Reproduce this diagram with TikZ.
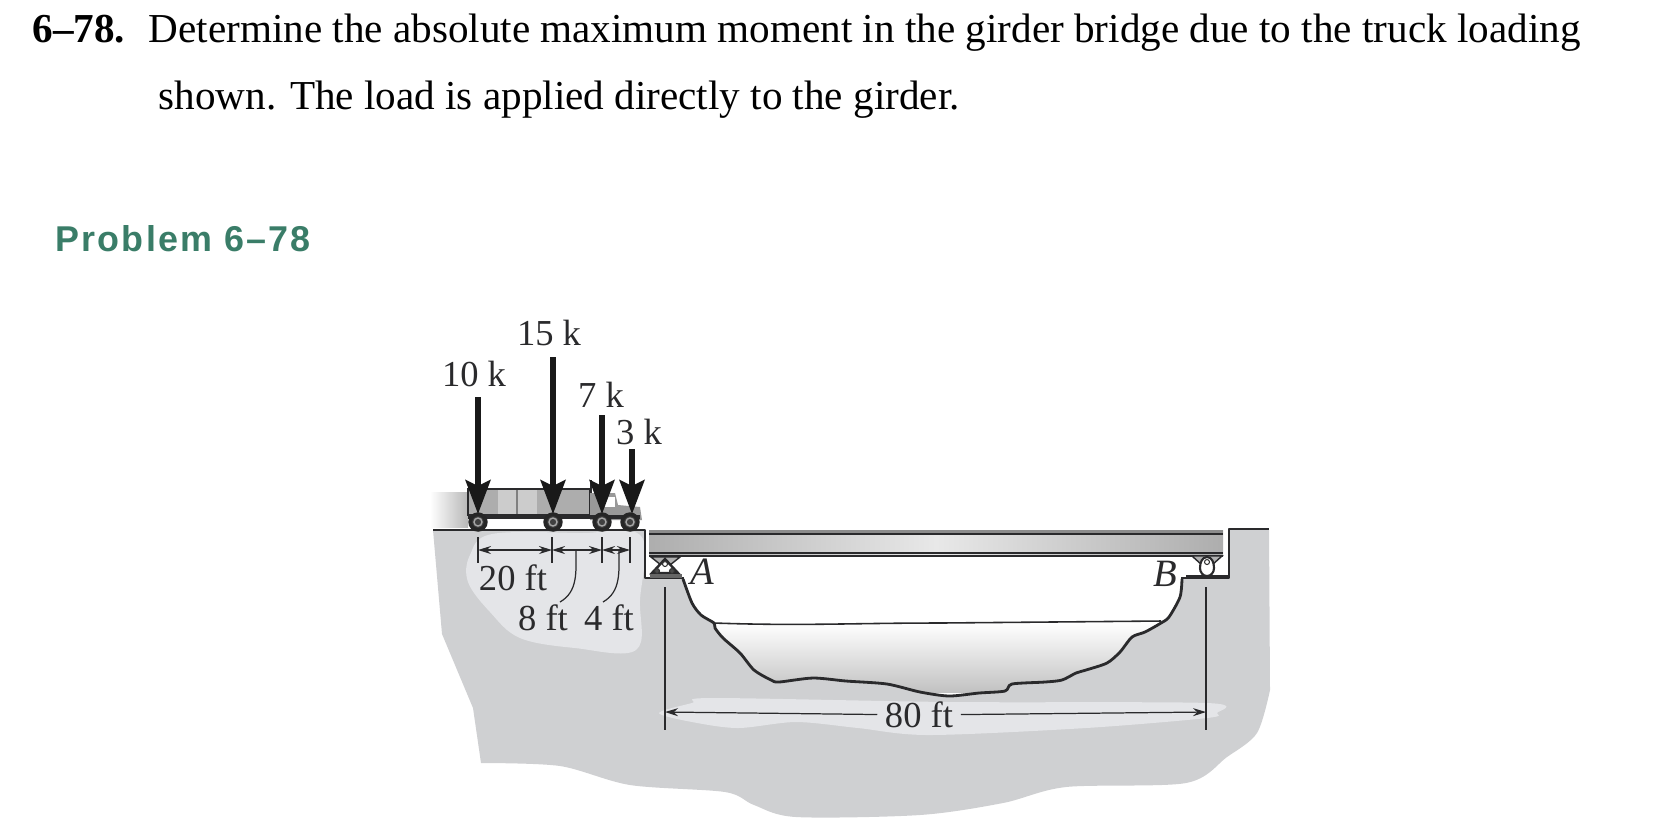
\documentclass[tikz,border=0pt]{standalone}
\usepackage{fontspec}
\setmainfont{Liberation Serif}
\newfontfamily\labelfont[LetterSpace=6]{Liberation Sans}
\usetikzlibrary{arrows.meta,calc}
\definecolor{ground}{HTML}{CFD0D2}
\definecolor{patch}{HTML}{E4E5E8}
\definecolor{headgreen}{HTML}{3A7D68}
\definecolor{inkdark}{HTML}{2A2A2C}
\tikzset{
  title/.style={anchor=base west,inner sep=0pt,font=\fontsize{11.7pt}{14pt}\selectfont,text=black},
  dimtext/.style={inner sep=0pt,font=\fontsize{10.4pt}{12pt}\selectfont,text=inkdark},
  extline/.style={draw=inkdark,line width=.35pt},
  dimline/.style={draw=inkdark,line width=.35pt,{Stealth[length=1.3mm,width=.8mm]}-{Stealth[length=1.3mm,width=.8mm]}},
  force/.style={draw=black!90,line width=1.5pt,-{Stealth[length=3.4mm,width=2.5mm,inset=.6mm]}},
  wheel/.style={circle,minimum size=.155cm,inner sep=0pt,draw=black!85,line width=1.1pt,fill=black!75},
  bolt/.style={circle,minimum size=.05cm,inner sep=0pt,draw=black!80,line width=.3pt,fill=white},
  darkbolt/.style={bolt,fill=black!70},
}
\newcommand\riverline{plot[smooth,tension=.45] coordinates {(683,579) (692,603) (701,615) (714,623) (715,628)
  (723,638) (740,653) (754,670) (771,680) (779,682) (813,678) (846,681) (887,684) (920,692)
  (949,696) (979,693) (1005,691) (1012,684) (1045,682) (1062,680) (1076,673) (1086,670) (1107,663)
  (1120,652) (1132,637) (1145,632) (1161,623) (1169,617) (1180,597) (1182,579)}}
\begin{document}
\begin{tikzpicture}[x=.01cm,y=-.01cm]
\useasboundingbox (0,0) rectangle (1658,838);

% text above the picture
\node[title] (num)   at (32,42)  {\textbf{6--78.}};
\node[title] (line1) at (148,42) {Determine the absolute maximum moment in the girder bridge due to the truck loading};
\node[title] (line2) at (158,109) {shown. The load is applied directly to the girder.};
\node[anchor=base west,inner sep=0pt,text=headgreen,font=\labelfont\bfseries\fontsize{10.2pt}{12pt}\selectfont] (prob) at (55,251) {Problem 6–78};

% ground
\fill[ground] (433,530) -- (1269,530) -- plot[smooth,tension=.5] coordinates {(1270,690) (1257,733) (1227,757)
  (1186,783) (1066,787) (1003,803) (920,815) (796,817) (754,805) (725,792) (630,785) (560,766) (481,763)}
  -- (473,708) -- (442,634) -- cycle;
\fill[white] (646,529) rectangle (1229,578);
\fill[white] (684,578) rectangle (1181,580);
\fill[patch] plot[smooth cycle,tension=.6] coordinates {(492,534) (580,533) (641,536) (640,600) (636,650)
  (575,648) (520,638) (490,612) (468,582) (470,555)};
\fill[patch] plot[smooth cycle,tension=.5] coordinates {(659,713) (692,703) (713,698) (950,702) (1207,703)
  (1217,713) (1207,718) (1086,728) (929,735) (858,728) (796,722) (738,728) (692,722)};

% river and bed
\fill[white] \riverline -- cycle;
\begin{scope}
\clip \riverline -- cycle;
\path[top color=white,bottom color=black!24] (683,623) rectangle (1182,692);
\end{scope}
\draw[inkdark,line width=.45pt] (714,623) to[out=-2,in=180] (940,623) -- (1161,621);
\draw[inkdark,line width=.8pt,line join=round] \riverline;
\draw[inkdark,line width=.8pt,line join=round] (433,530) -- (645,530) -- (645,578) -- (684,578);
\draw[inkdark,line width=.8pt,line join=round] (1181,578) -- (1229,578) -- (1229,529) -- (1269,529);

% girder
\path[left color=black!32,right color=black!32,middle color=black!9] (649,530) rectangle (1223,556);
\fill[black!45] (649,530) rectangle (1223,534);
\draw[inkdark,line width=.5pt] (649,534) -- (1223,534);
\draw[inkdark,line width=.5pt] (649,553) -- (1223,553);
\draw[inkdark,line width=.5pt] (649,556) -- (1223,556);

% support at A
\fill[black!30,draw=inkdark,line width=.4pt] (651,557) -- (680,557) -- (670,565) -- (661,565) -- cycle;
\fill[white,draw=inkdark,line width=.7pt] (665,559) -- (678,573) -- (652,573) -- cycle;
\node[bolt] (pinA) at (665,564) {};
\node[darkbolt] (boltA1) at (657,571) {};
\node[darkbolt] (boltA2) at (672,571) {};
\fill[black!60] (650,574) rectangle (682,578);
\node[inner sep=0pt,font=\fontsize{11pt}{12pt}\selectfont\itshape,text=inkdark] (A) at (702,572) {A};

% support at B
\fill[black!30,draw=inkdark,line width=.4pt] (1192,556) -- (1222,556) -- (1212,565) -- (1202,565) -- cycle;
\fill[white,draw=inkdark,line width=.6pt] (1207,557) to[out=0,in=90] (1214,568) to[out=-90,in=0] (1207,576) to[out=180,in=-90] (1200,568) to[out=90,in=180] (1207,557) -- cycle;
\node[bolt] (pinB) at (1207,562) {};
\fill[black!60,draw=inkdark,line width=.3pt] (1187,576) rectangle (1227,578);
\node[inner sep=0pt,font=\fontsize{11pt}{12pt}\selectfont\itshape,text=inkdark] (B) at (1165,574) {B};

% truck
\path[left color=white,right color=black!28] (430,492) rectangle (468,527);
\fill[black!32] (468,489) rectangle (590,515);
\fill[black!20] (498,490) rectangle (537,514);
\draw[black!50,line width=.3pt] (517,490) -- (517,514);
\draw[inkdark,line width=.3pt] (468,489) rectangle (590,515);
\draw[inkdark,line width=.6pt] (591,480) -- (591,515);
\fill[black!40] (590,515) -- (590,493) -- (615,493) -- (618,505) -- (640,507) -- (642,520) -- (590,520) -- cycle;
\fill[white] (604,497) rectangle (615,507);
\fill[inkdark] (468,515) rectangle (640,519);
\node[wheel] (wheel1) at (478,522) {};
\node[wheel] (wheel2) at (553,522) {};
\node[wheel] (wheel3) at (602,522) {};
\node[wheel] (wheel4) at (630,522) {};
\foreach \n in {1,2,3,4} {
  \draw[black!35,line width=.4pt] (wheel\n) circle (.04cm);
}

% loads
\coordinate (top1) at (478,397);
\coordinate (top2) at (553,357);
\coordinate (top3) at (602,415);
\coordinate (top4) at (632,449);
\coordinate (tip1) at (478,514);
\coordinate (tip2) at (553,514);
\coordinate (tip3) at (602,514);
\coordinate (tip4) at (632,514);
\draw[force] (top1) -- (tip1);
\draw[force] (top2) -- (tip2);
\draw[force] (top3) -- (tip3);
\draw[force] (top4) -- (tip4);
\node[dimtext] (load1) at (474,374) {10 k};
\node[dimtext] (load2) at (549,333) {15 k};
\node[dimtext] (load3) at (601,395) {7 k};
\node[dimtext] (load4) at (639,432) {3 k};

% dimensions under the truck
\coordinate (d1) at (478,550);
\coordinate (d2) at (552,550);
\coordinate (d3) at (602,550);
\coordinate (d4) at (630,550);
\foreach \n in {1,2,3,4} {
  \draw[extline] ($(d\n)+(0,-13)$) -- ($(d\n)+(0,13)$);
}
\draw[dimline] (d1) -- (d2);
\draw[dimline] (d2) -- (d3);
\draw[dimline] (d3) -- (d4);
\node[dimtext] (dim1) at (513,578) {20 ft};
\node[dimtext] (dim2) at (543,618) {8 ft};
\node[dimtext] (dim3) at (609,618) {4 ft};
\coordinate (lead2) at (576,551);
\coordinate (lead3) at (619,551);
\coordinate (end2) at (560,602);
\coordinate (end3) at (603,602);
\draw[extline] (lead2) to[out=-90,in=30] (end2);
\draw[extline] (lead3) to[out=-90,in=30] (end3);

% span
\coordinate (spanA) at (665,712);
\coordinate (spanB) at (1206,712);
\node[dimtext,fill=patch,inner xsep=2pt] (span) at (919,715) {80 ft};
\draw[extline] (665,587) -- (665,730);
\draw[extline] (1206,587) -- (1206,730);
\draw[dimline,-{Stealth[length=1.3mm,width=.8mm]}] (span) -- (spanB);
\draw[dimline,-{Stealth[length=1.3mm,width=.8mm]}] (span) -- (spanA);
\end{tikzpicture}
\end{document}
